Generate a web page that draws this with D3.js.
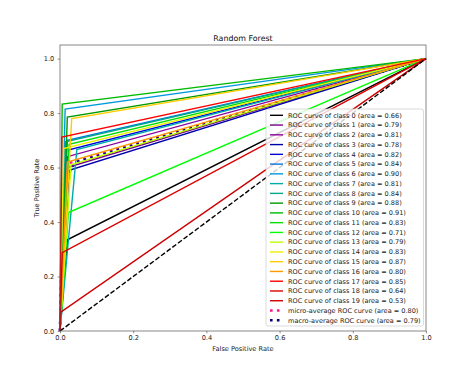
<!DOCTYPE html>
<html>
<head>
<meta charset="utf-8">
<script src="https://cdn.jsdelivr.net/npm/d3@7"></script>
<style>
  body { margin: 0; background: #fff; }
  text { font-family: "DejaVu Sans", sans-serif; }
</style>
</head>
<body>
<div id="chart-area"></div>
<script>
// ROC curves, one point per class between (0,0) and (1,1)
var classFpr = [0.02, 0.02, 0.02, 0.025, 0.025, 0.02, 0.014, 0.046, 0.015, 0.02,
                0.006, 0.025, 0.023, 0.03, 0.01, 0.032, 0.02, 0.005, 0.006, 0.003];
var classTpr = [0.335, 0.60, 0.64, 0.59, 0.665, 0.70, 0.815, 0.666, 0.695, 0.785,
                0.833, 0.685, 0.435, 0.61, 0.67, 0.78, 0.62, 0.712, 0.288, 0.07];
var classArea = [0.66, 0.79, 0.81, 0.78, 0.82, 0.84, 0.90, 0.81, 0.84, 0.88,
                 0.91, 0.83, 0.71, 0.79, 0.83, 0.87, 0.80, 0.85, 0.64, 0.53];
var classColors = ["#000000", "#770088", "#880099", "#0000aa", "#0000dd", "#0077dd", "#0099dd",
                   "#00aaaa", "#00aa88", "#009900", "#00bb00", "#00dd00", "#00ff00", "#bbff00",
                   "#eeee00", "#ffcc00", "#ff9900", "#ff0000", "#dd0000", "#cc0000"];

var microFpr = [0, 0.012, 1];
var microTpr = [0, 0.612, 1];
var microArea = 0.80;
var macroFpr = [0, 0.005, 0.01, 0.02, 0.03, 0.046, 1];
var macroTpr = [0, 0.30, 0.42, 0.55, 0.60, 0.62, 1];
var macroArea = 0.79;

var xTicks = [0, 0.2, 0.4, 0.6, 0.8, 1.0];
var yTicks = [0, 0.2, 0.4, 0.6, 0.8, 1.0];

var width = 474, height = 379;
var axLeft = 60, axRight = 426, axTop = 45, axBottom = 331;

var svg = d3.select("#chart-area").append("svg")
	.attr("width", width)
	.attr("height", height);

var x = d3.scaleLinear().domain([0, 1]).range([axLeft, axRight]);
var y = d3.scaleLinear().domain([0, 1.05]).range([axBottom, axTop]);

var line = d3.line()
	.x(function(d){ return x(d[0]); })
	.y(function(d){ return y(d[1]); });

var plot = svg.append("g");

// averages first, then classes, then the chance line
plot.append("path")
	.datum(d3.zip(microFpr, microTpr))
	.attr("d", line)
	.attr("fill", "none")
	.attr("stroke", "deeppink")
	.attr("stroke-width", 2.6)
	.attr("stroke-dasharray", "2.6,4.3");

plot.append("path")
	.datum(d3.zip(macroFpr, macroTpr))
	.attr("d", line)
	.attr("fill", "none")
	.attr("stroke", "navy")
	.attr("stroke-width", 2.6)
	.attr("stroke-dasharray", "2.6,4.3");

plot.selectAll(".roc")
	.data(classFpr)
	.enter()
	.append("path")
	.attr("class", "roc")
	.attr("d", function(d, i){
		return line([[0, 0], [classFpr[i], classTpr[i]], [1, 1]]);
	})
	.attr("fill", "none")
	.attr("stroke", function(d, i){ return classColors[i]; })
	.attr("stroke-width", 1.4);

plot.append("path")
	.datum([[0, 0], [1, 1]])
	.attr("d", line)
	.attr("fill", "none")
	.attr("stroke", "black")
	.attr("stroke-width", 1.4)
	.attr("stroke-dasharray", "4.9,2.1");

// axes
svg.append("g")
	.attr("transform", "translate(0," + axBottom + ")")
	.call(d3.axisBottom(x).tickValues(xTicks).tickFormat(d3.format(".1f")).tickSize(2.3).tickPadding(2.5));

svg.append("g")
	.attr("transform", "translate(" + axLeft + ",0)")
	.call(d3.axisLeft(y).tickValues(yTicks).tickFormat(d3.format(".1f")).tickSize(2.3).tickPadding(3.5));

svg.selectAll(".domain").remove();
svg.selectAll(".tick text")
	.style("font-family", "DejaVu Sans")
	.attr("font-size", 6.6)
	.attr("fill", "#222");
svg.selectAll(".tick line").attr("stroke", "#444").attr("stroke-width", 0.6);

svg.append("rect")
	.attr("x", axLeft)
	.attr("y", axTop)
	.attr("width", axRight - axLeft)
	.attr("height", axBottom - axTop)
	.attr("fill", "none")
	.attr("stroke", "#555")
	.attr("stroke-width", 0.7);

svg.append("text")
	.attr("x", (axLeft + axRight) / 2)
	.attr("y", 41)
	.attr("text-anchor", "middle")
	.attr("font-size", 7.9)
	.attr("fill", "#111")
	.text("Random Forest");

svg.append("text")
	.attr("x", (axLeft + axRight) / 2)
	.attr("y", 350.5)
	.attr("text-anchor", "middle")
	.attr("font-size", 6.6)
	.attr("fill", "#222")
	.text("False Positive Rate");

svg.append("text")
	.attr("transform", "translate(39," + ((axTop + axBottom) / 2) + ") rotate(-90)")
	.attr("text-anchor", "middle")
	.attr("font-size", 6.6)
	.attr("fill", "#222")
	.text("True Positive Rate");

// legend
var entries = classArea.map(function(a, i){
	return { label: "ROC curve of class " + i + " (area = " + a.toFixed(2) + ")", color: classColors[i], dotted: false };
});
entries.push({ label: "micro-average ROC curve (area = " + microArea.toFixed(2) + ")", color: "deeppink", dotted: true });
entries.push({ label: "macro-average ROC curve (area = " + macroArea.toFixed(2) + ")", color: "navy", dotted: true });

var legend = svg.append("g");
legend.append("rect")
	.attr("x", 266)
	.attr("y", 109)
	.attr("width", 157.5)
	.attr("height", 217)
	.attr("rx", 2)
	.attr("fill", "white")
	.attr("fill-opacity", 0.8)
	.attr("stroke", "#ccc")
	.attr("stroke-width", 0.7);

var rows = legend.selectAll(".entry")
	.data(entries)
	.enter()
	.append("g")
	.attr("class", "entry")
	.attr("transform", function(d, i){ return "translate(0," + (115.3 + i * 9.76) + ")"; });

rows.append("line")
	.attr("x1", 270)
	.attr("x2", 283)
	.attr("stroke", function(d){ return d.color; })
	.attr("stroke-width", function(d){ return d.dotted ? 2.6 : 1.4; })
	.attr("stroke-dasharray", function(d){ return d.dotted ? "2.6,4.3" : null; });

rows.append("text")
	.attr("x", 288)
	.attr("dy", "0.35em")
	.attr("font-size", 6.55)
	.attr("fill", "#222")
	.text(function(d){ return d.label; });
</script>
</body>
</html>
